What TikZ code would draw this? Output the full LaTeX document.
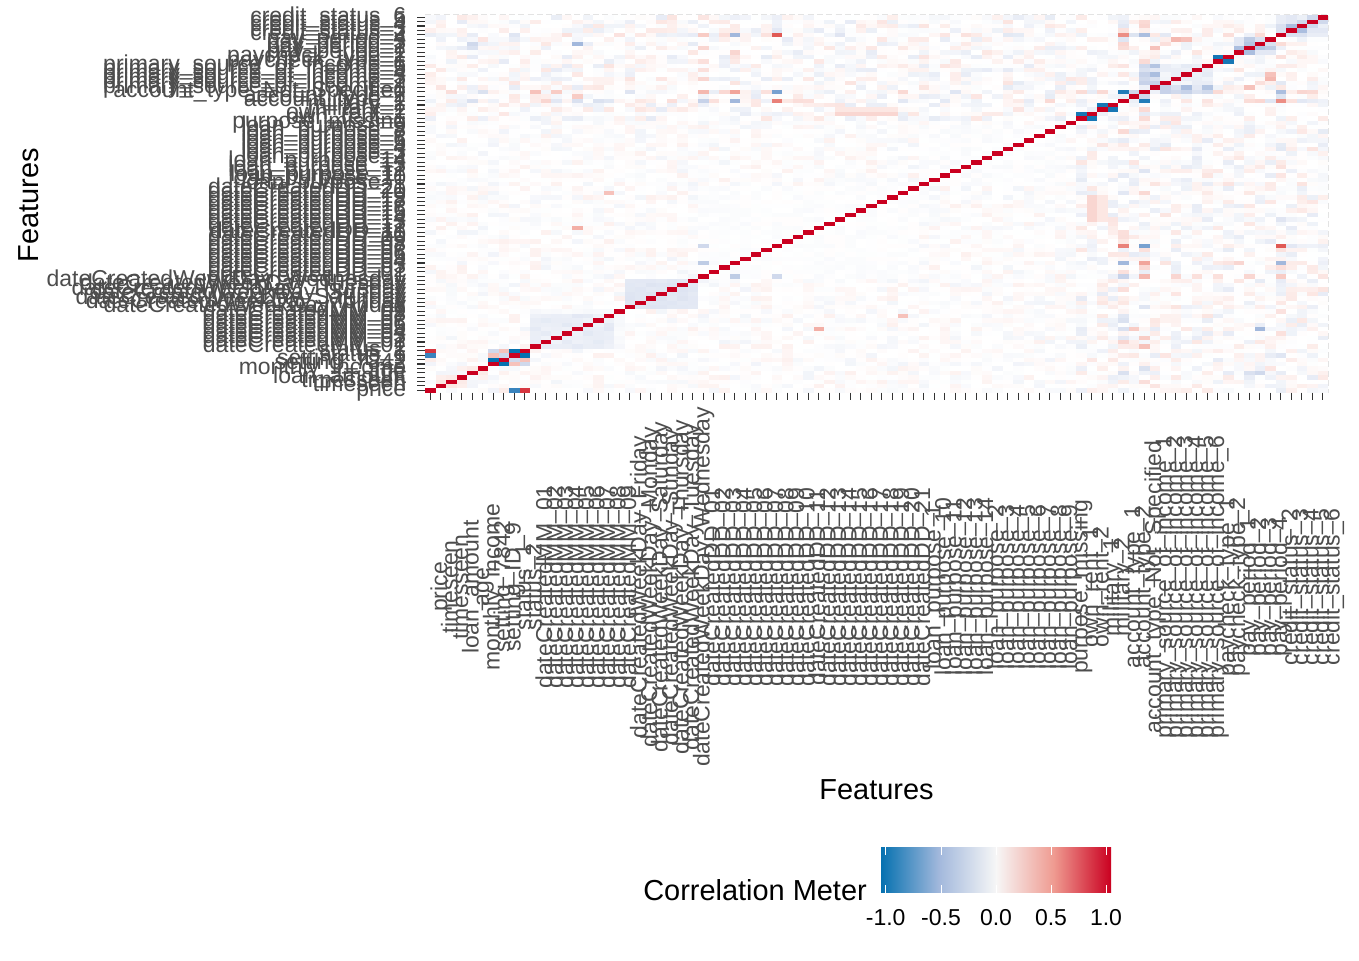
\documentclass[tikz,border=0pt]{standalone}
\usepackage{fontspec}
\setmainfont{Liberation Sans}
\definecolor{s0}{HTML}{0571B0}
\definecolor{s1}{HTML}{5E91C8}
\definecolor{s2}{HTML}{A2B8DC}
\definecolor{s3}{HTML}{D0D9EC}
\definecolor{s4}{HTML}{FFFFFF}
\definecolor{s5}{HTML}{F8CCC5}
\definecolor{s6}{HTML}{EF9B91}
\definecolor{s7}{HTML}{E05A55}
\definecolor{s8}{HTML}{CA0020}
\definecolor{legmid}{HTML}{F7F7F7}
\definecolor{axtxt}{HTML}{4D4D4D}
\definecolor{tickc}{HTML}{333333}
\definecolor{gridc}{HTML}{E3E3E3}
\newcommand\setv[3]{\expandafter\gdef\csname cv@#1@#2\endcsname{#3}}
\newcommand\chkboost[1]{\ifnum#1=67 \def\camp{0.2}\fi\ifnum#1=69 \def\camp{0.2}\fi\ifnum#1=82 \def\camp{0.18}\fi}
\tikzset{
  ylab/.style={anchor=east, inner sep=0pt, text=axtxt, font=\fontsize{17.25}{17.25}\selectfont, text height=12.5pt, text depth=3.6pt},
  xlab/.style={anchor=north, rotate=90, inner sep=0pt, text=axtxt, font=\fontsize{17.25}{17.25}\selectfont, text height=12.5pt, text depth=3.6pt},
  axtitle/.style={inner sep=0pt, text=black, font=\fontsize{21.7}{21.7}\selectfont},
  legtxt/.style={inner sep=0pt, text=black, font=\fontsize{17.25}{17.25}\selectfont},
  tickline/.style={draw=tickc, line width=0.8pt},
  legtick/.style={draw=white, line width=0.75pt},
  gridline/.style={draw=gridc, line width=0.75pt, dash pattern=on 4.5pt off 2.5pt},
}
\begin{document}
\begin{tikzpicture}[x=0.75pt,y=-0.75pt]
\fill[white] (0,0) rectangle (1359,960);
\useasboundingbox (0,0) rectangle (1359,960);
% ---------- structured correlation values ----------
\pgfmathsetseed{7}
\foreach \a in {11,...,18}{\foreach \b in {\a,...,18}{\ifnum\a<\b \pgfmathsetmacro\tv{-0.12+0.04*rand}\expandafter\xdef\csname cv@\a @\b\endcsname{\tv}\fi}}
\foreach \a in {11,...,18}{\pgfmathsetmacro\tv{-0.04+0.02*rand}\expandafter\xdef\csname cv@\a @19\endcsname{\tv}}
\foreach \a in {20,...,26}{\foreach \b in {\a,...,26}{\ifnum\a<\b \pgfmathsetmacro\tv{-0.16+0.02*rand}\expandafter\xdef\csname cv@\a @\b\endcsname{\tv}\fi}}
\foreach \a in {27,...,47}{\foreach \b in {\a,...,47}{\ifnum\a<\b \pgfmathsetmacro\tv{-0.01+0.02*rand}\expandafter\xdef\csname cv@\a @\b\endcsname{\tv}\fi}}
\foreach \a in {48,...,61}{\foreach \b in {\a,...,61}{\ifnum\a<\b \pgfmathsetmacro\tv{-0.015+0.025*rand}\expandafter\xdef\csname cv@\a @\b\endcsname{\tv}\fi}}
\foreach \a in {71,...,75}{\foreach \b in {\a,...,75}{\ifnum\a<\b \pgfmathsetmacro\tv{-0.1+0.04*rand}\expandafter\xdef\csname cv@\a @\b\endcsname{\tv}\fi}}
\foreach \b in {40,...,45}{\setv{\b}{64}{0.2}\setv{\b}{65}{0.12}}
\setv{1}{9}{-0.85}\setv{1}{10}{0.85}\setv{1}{7}{-0.07}\setv{1}{8}{0.09}
\setv{7}{8}{-1}\setv{9}{10}{-1}\setv{7}{9}{0.3}\setv{7}{10}{-0.25}\setv{8}{9}{-0.25}\setv{8}{10}{0.3}
\setv{2}{3}{0.12}\setv{3}{4}{0.1}\setv{2}{4}{0.08}\setv{5}{6}{0.1}\setv{4}{6}{0.07}\setv{3}{5}{-0.06}
\setv{63}{64}{-0.95}\setv{65}{66}{-0.95}\setv{67}{69}{-0.92}\setv{76}{77}{-0.95}
\setv{67}{68}{-0.1}\setv{68}{69}{-0.25}
\setv{70}{71}{-0.3}\setv{70}{72}{-0.2}\setv{70}{73}{-0.45}\setv{70}{74}{-0.15}\setv{70}{75}{-0.4}
\setv{69}{71}{-0.3}\setv{69}{72}{-0.25}\setv{69}{73}{-0.3}\setv{69}{74}{-0.2}\setv{69}{75}{-0.25}
\setv{78}{79}{-0.45}\setv{79}{80}{-0.4}\setv{79}{81}{-0.35}\setv{78}{80}{-0.15}\setv{78}{81}{-0.15}\setv{80}{81}{-0.2}
\setv{82}{83}{-0.2}\setv{82}{84}{-0.2}\setv{82}{85}{-0.12}\setv{82}{86}{-0.12}\setv{83}{84}{-0.45}
\setv{83}{85}{-0.15}\setv{83}{86}{-0.15}\setv{84}{85}{-0.25}\setv{84}{86}{-0.1}\setv{85}{86}{-0.25}
\setv{67}{82}{0.55}\setv{69}{82}{-0.45}\setv{67}{84}{-0.15}\setv{69}{84}{0.2}\setv{69}{85}{0.18}\setv{67}{85}{-0.12}\setv{69}{83}{0.08}
\setv{72}{81}{0.35}\setv{73}{81}{0.3}\setv{71}{80}{0.15}\setv{70}{79}{0.3}\setv{74}{78}{0.12}
\setv{34}{67}{0.6}\setv{34}{69}{-0.65}\setv{34}{82}{0.75}\setv{34}{83}{-0.15}
\setv{30}{67}{-0.5}\setv{30}{69}{0.45}\setv{30}{82}{-0.5}\setv{30}{78}{0.2}
\setv{27}{82}{0.25}\setv{27}{79}{0.2}\setv{27}{76}{0.15}\setv{27}{69}{0.35}\setv{27}{67}{-0.3}\setv{27}{30}{-0.35}\setv{27}{34}{-0.25}\setv{27}{72}{0.2}\setv{27}{74}{0.15}
\setv{5}{79}{-0.2}\setv{5}{80}{-0.25}\setv{5}{67}{-0.2}\setv{5}{82}{-0.12}
\setv{15}{80}{-0.5}\setv{15}{68}{0.25}\setv{15}{38}{0.4}\setv{18}{46}{0.3}
\setv{11}{69}{0.3}\setv{12}{67}{0.2}\setv{13}{69}{0.25}\setv{13}{67}{-0.15}\setv{15}{67}{-0.2}
% ---------- heatmap tiles ----------
\foreach \i in {1,...,86}{
  \foreach \j in {\i,...,86}{
    \ifnum\i=\j
      \def\cval{1}%
    \else
      \ifcsname cv@\i @\j\endcsname
        \edef\cval{\csname cv@\i @\j\endcsname}%
      \else
        \pgfmathsetmacro\crr{rand}%
        \ifnum\j>62 \ifnum\i>62 \def\camp{0.1}\else\def\camp{0.13}\fi\else\def\camp{0.07}\fi
        \chkboost{\i}\chkboost{\j}%
        \pgfmathsetmacro\cval{\camp*\crr*abs(\crr)}%
      \fi
    \fi
    \pgfmathsetmacro\cu{(\cval+1)*4}%
    \pgfmathtruncatemacro\ck{min(7,max(0,floor(\cu)))}%
    \pgfmathtruncatemacro\cp{min(100,max(0,round(100*(\cu-\ck))))}%
    \pgfmathtruncatemacro\ckk{\ck+1}%
    \colorlet{cc}{s\ckk!\cp!s\ck}%
    \fill[cc] ({425+10.5*(\i-1)},{392.5-4.3895*\j}) rectangle ++(10.8,4.65);
    \fill[cc] ({425+10.5*(\j-1)},{392.5-4.3895*\i}) rectangle ++(10.8,4.65);
  }
}
\draw[gridline] (425,14.3) -- (1328.5,14.3) -- (1328.5,392.5);
% ---------- axis labels and ticks ----------
\foreach \nm [count=\c] in {price,timeseen,timesseen,loan\_amount,age,monthly\_income,setting\_7842,setting\_ID\_9,status\_1,status\_2,
dateCreatedMM\_01,dateCreatedMM\_02,dateCreatedMM\_03,dateCreatedMM\_04,dateCreatedMM\_05,dateCreatedMM\_06,dateCreatedMM\_07,dateCreatedMM\_08,dateCreatedMM\_09,
dateCreatedWeekDay\_Friday,dateCreatedWeekDay\_Monday,dateCreatedWeekDay\_Saturday,dateCreatedWeekDay\_Sunday,dateCreatedWeekDay\_Thursday,dateCreatedWeekDay\_Tuesday,dateCreatedWeekDay\_Wednesday,
dateCreatedDD\_01,dateCreatedDD\_02,dateCreatedDD\_03,dateCreatedDD\_04,dateCreatedDD\_05,dateCreatedDD\_06,dateCreatedDD\_07,dateCreatedDD\_08,dateCreatedDD\_09,dateCreatedDD\_10,dateCreatedDD\_11,dateCreatedDD\_12,dateCreatedDD\_13,dateCreatedDD\_14,dateCreatedDD\_15,dateCreatedDD\_16,dateCreatedDD\_17,dateCreatedDD\_18,dateCreatedDD\_19,dateCreatedDD\_20,dateCreatedDD\_21,
loan\_purpose\_1,loan\_purpose\_10,loan\_purpose\_11,loan\_purpose\_12,loan\_purpose\_13,loan\_purpose\_14,loan\_purpose\_2,loan\_purpose\_3,loan\_purpose\_4,loan\_purpose\_5,loan\_purpose\_6,loan\_purpose\_7,loan\_purpose\_8,loan\_purpose\_9,
purpose\_missing,own\_rent\_1,own\_rent\_2,military\_1,military\_2,account\_type\_1,account\_type\_2,account\_type\_Not\_Specified,
primary\_source\_of\_income\_1,primary\_source\_of\_income\_2,primary\_source\_of\_income\_3,primary\_source\_of\_income\_4,primary\_source\_of\_income\_5,primary\_source\_of\_income\_6,
paycheck\_type\_1,paycheck\_type\_2,pay\_period\_1,pay\_period\_2,pay\_period\_3,pay\_period\_4,
credit\_status\_2,credit\_status\_3,credit\_status\_4,credit\_status\_5,credit\_status\_6}{
  \pgfmathsetmacro\ry{392.5-4.3895*(\c-0.5)}
  \pgfmathsetmacro\cx{425+10.5*(\c-0.5)}
  \node[ylab] (yl\c) at (406.5,\ry) {\nm};
  \node[xlab] (xl\c) at (\cx,587) {\nm};
  \draw[tickline] (417,\ry) -- (424.7,\ry);
  \draw[tickline] (\cx,392.5) -- (\cx,399.7);
}
% ---------- axis titles ----------
\node[axtitle, anchor=base] (xtitle) at (876.5,799) {Features};
\node[axtitle, anchor=base, rotate=90] (ytitle) at (38,205) {Features};
% ---------- legend ----------
\node[axtitle, anchor=base west] (legtitle) at (643,900.5) {Correlation Meter};
\shade[left color=s0, right color=legmid, middle color=s2] (881,847) rectangle (996.5,892.7);
\shade[left color=legmid, right color=s8, middle color=s6] (996,847) rectangle (1111,892.7);
\foreach \tx/\lb [count=\n] in {885.7/-1.0,941/-0.5,996/0.0,1051/0.5,1106/1.0}{
  \draw[legtick] (\tx,847) -- (\tx,854.5);
  \draw[legtick] (\tx,885.2) -- (\tx,892.7);
  \node[legtxt, anchor=base] (lg\n) at (\tx,925) {\lb};
}
\end{tikzpicture}
\end{document}
